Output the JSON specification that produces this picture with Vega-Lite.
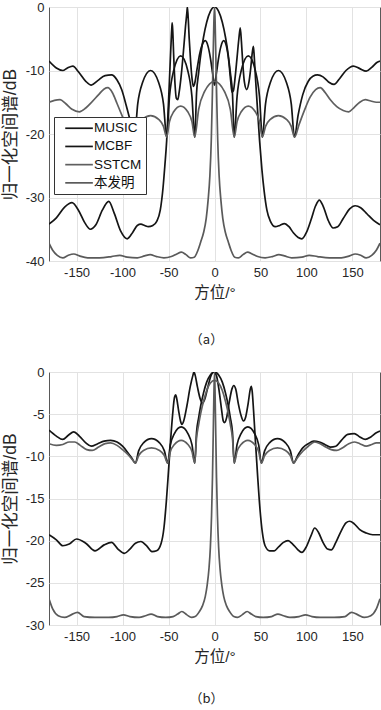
{
"$schema": "https://vega.github.io/schema/vega-lite/v6.json",
"padding": {"left": 0, "top": 0, "right": 0, "bottom": 0},
"spacing": 18,
"config": {
 "font": "Liberation Sans",
 "view": {"stroke": "#595959", "strokeWidth": 1},
 "axis": {"domain": false, "ticks": false, "grid": true, "gridColor": "#e2e2e2", "gridWidth": 1, "labelFont": "Liberation Sans", "labelFontSize": 13, "labelColor": "#262626", "labelPadding": 5, "titleFont": "Liberation Sans, Noto Sans CJK SC", "titleFontSize": 15.5, "titleFontWeight": "normal", "titleColor": "#262626"},
 "axisY": {"titleFontSize": 17.5},
 "legend": {"orient": "none", "title": null, "symbolType": "M0,0H9.2", "symbolSize": 36, "symbolStrokeWidth": 1.7, "labelFont": "Liberation Sans, Noto Sans CJK SC", "labelFontSize": 13.5, "labelColor": "#111111", "labelOffset": 22, "padding": 4.5, "rowPadding": 3.2, "fillColor": "white", "strokeColor": "#333333", "strokeWidth": 1},
 "title": {"orient": "bottom", "offset": 33, "fontSize": 13, "fontWeight": "normal", "font": "Noto Sans CJK SC", "color": "#222222", "dx": -8}
},
"datasets": {
"a": [
{"m":"MUSIC","x":-180,"y":-34.2},{"m":"MUSIC","x":-172,"y":-33.2},{"m":"MUSIC","x":-163,"y":-31.5},{"m":"MUSIC","x":-155,"y":-30.8},{"m":"MUSIC","x":-148,"y":-32},{"m":"MUSIC","x":-141,"y":-34},{"m":"MUSIC","x":-135,"y":-35},{"m":"MUSIC","x":-129,"y":-34.3},{"m":"MUSIC","x":-122,"y":-32},{"m":"MUSIC","x":-115,"y":-30.6},{"m":"MUSIC","x":-109,"y":-32.5},{"m":"MUSIC","x":-102,"y":-35.3},{"m":"MUSIC","x":-95,"y":-36.5},{"m":"MUSIC","x":-89,"y":-35.5},{"m":"MUSIC","x":-84,"y":-34.4},{"m":"MUSIC","x":-80,"y":-34.2},{"m":"MUSIC","x":-76,"y":-34.4},{"m":"MUSIC","x":-72,"y":-34.6},{"m":"MUSIC","x":-67,"y":-34.4},{"m":"MUSIC","x":-63,"y":-33.8},{"m":"MUSIC","x":-59,"y":-32},{"m":"MUSIC","x":-56,"y":-28.5},{"m":"MUSIC","x":-54,"y":-25},{"m":"MUSIC","x":-52,"y":-21},{"m":"MUSIC","x":-50.5,"y":-16.5},{"m":"MUSIC","x":-49,"y":-11.5},{"m":"MUSIC","x":-47.5,"y":-6.5},{"m":"MUSIC","x":-46.5,"y":-3.5},{"m":"MUSIC","x":-46,"y":-2.5},{"m":"MUSIC","x":-45.4,"y":-3.8},{"m":"MUSIC","x":-44.3,"y":-8},{"m":"MUSIC","x":-43,"y":-12},{"m":"MUSIC","x":-41.5,"y":-14.4},{"m":"MUSIC","x":-40,"y":-14.6},{"m":"MUSIC","x":-38.5,"y":-13.5},{"m":"MUSIC","x":-36,"y":-10.5},{"m":"MUSIC","x":-33.5,"y":-6.5},{"m":"MUSIC","x":-31.5,"y":-3},{"m":"MUSIC","x":-30,"y":-0.8},{"m":"MUSIC","x":-29.5,"y":0},{"m":"MUSIC","x":-28.7,"y":-1.5},{"m":"MUSIC","x":-27.5,"y":-5},{"m":"MUSIC","x":-26,"y":-8.5},{"m":"MUSIC","x":-24.5,"y":-11.2},{"m":"MUSIC","x":-23,"y":-12.5},{"m":"MUSIC","x":-21.5,"y":-12},{"m":"MUSIC","x":-19,"y":-9.8},{"m":"MUSIC","x":-16,"y":-7.3},{"m":"MUSIC","x":-13,"y":-5.8},{"m":"MUSIC","x":-10,"y":-5.3},{"m":"MUSIC","x":-7,"y":-6.2},{"m":"MUSIC","x":-4.5,"y":-8},{"m":"MUSIC","x":-2,"y":-10.5},{"m":"MUSIC","x":0,"y":-12.3},{"m":"MUSIC","x":2,"y":-10.5},{"m":"MUSIC","x":4.5,"y":-8},{"m":"MUSIC","x":7,"y":-6.2},{"m":"MUSIC","x":10,"y":-5.3},{"m":"MUSIC","x":13,"y":-6.2},{"m":"MUSIC","x":15.5,"y":-8.5},{"m":"MUSIC","x":17.5,"y":-11.5},{"m":"MUSIC","x":19,"y":-13.4},{"m":"MUSIC","x":20.5,"y":-13.2},{"m":"MUSIC","x":22.5,"y":-11},{"m":"MUSIC","x":24.5,"y":-8},{"m":"MUSIC","x":26.5,"y":-5},{"m":"MUSIC","x":28,"y":-3.3},{"m":"MUSIC","x":29.3,"y":-5.5},{"m":"MUSIC","x":30.8,"y":-9},{"m":"MUSIC","x":32.5,"y":-11.8},{"m":"MUSIC","x":35,"y":-13},{"m":"MUSIC","x":37.5,"y":-11.8},{"m":"MUSIC","x":39.5,"y":-9.5},{"m":"MUSIC","x":41,"y":-7.3},{"m":"MUSIC","x":42.3,"y":-6.2},{"m":"MUSIC","x":43.3,"y":-8},{"m":"MUSIC","x":44.5,"y":-11},{"m":"MUSIC","x":46.5,"y":-15.5},{"m":"MUSIC","x":49,"y":-21},{"m":"MUSIC","x":51.5,"y":-25.5},{"m":"MUSIC","x":54,"y":-29},{"m":"MUSIC","x":57,"y":-32},{"m":"MUSIC","x":61,"y":-33.8},{"m":"MUSIC","x":66,"y":-34.6},{"m":"MUSIC","x":71,"y":-34.4},{"m":"MUSIC","x":76,"y":-34.1},{"m":"MUSIC","x":81,"y":-34.6},{"m":"MUSIC","x":86,"y":-35.6},{"m":"MUSIC","x":91,"y":-36.3},{"m":"MUSIC","x":95,"y":-36.5},{"m":"MUSIC","x":100,"y":-35.5},{"m":"MUSIC","x":105,"y":-33.5},{"m":"MUSIC","x":110,"y":-31.3},{"m":"MUSIC","x":114,"y":-30.4},{"m":"MUSIC","x":118,"y":-31.3},{"m":"MUSIC","x":124,"y":-33.7},{"m":"MUSIC","x":129,"y":-34.8},{"m":"MUSIC","x":134,"y":-34.6},{"m":"MUSIC","x":140,"y":-33.3},{"m":"MUSIC","x":147,"y":-31.8},{"m":"MUSIC","x":153,"y":-31.3},{"m":"MUSIC","x":159,"y":-31.6},{"m":"MUSIC","x":166,"y":-32.6},{"m":"MUSIC","x":173,"y":-33.6},{"m":"MUSIC","x":180,"y":-34.3},
{"m":"MCBF","x":-180,"y":-8.5},{"m":"MCBF","x":-172,"y":-9.6},{"m":"MCBF","x":-165,"y":-10},{"m":"MCBF","x":-160,"y":-9.6},{"m":"MCBF","x":-154,"y":-9.3},{"m":"MCBF","x":-148,"y":-10.2},{"m":"MCBF","x":-140,"y":-11.7},{"m":"MCBF","x":-134,"y":-12.3},{"m":"MCBF","x":-127,"y":-11.6},{"m":"MCBF","x":-119,"y":-10.8},{"m":"MCBF","x":-112,"y":-10.7},{"m":"MCBF","x":-106,"y":-11.5},{"m":"MCBF","x":-101,"y":-13},{"m":"MCBF","x":-96,"y":-15.5},{"m":"MCBF","x":-91,"y":-18.3},{"m":"MCBF","x":-87,"y":-20.5},{"m":"MCBF","x":-83.5,"y":-15.25},{"m":"MCBF","x":-78.25,"y":-11.9},{"m":"MCBF","x":-69.5,"y":-10},{"m":"MCBF","x":-60.75,"y":-11.9},{"m":"MCBF","x":-55.5,"y":-15.25},{"m":"MCBF","x":-52,"y":-20.5},{"m":"MCBF","x":-48.95,"y":-14.1},{"m":"MCBF","x":-44.4,"y":-10},{"m":"MCBF","x":-36.75,"y":-7.7},{"m":"MCBF","x":-29.1,"y":-10},{"m":"MCBF","x":-24.55,"y":-14.1},{"m":"MCBF","x":-21.5,"y":-20.5},{"m":"MCBF","x":-19.5,"y":-13.5},{"m":"MCBF","x":-17.2,"y":-10.3},{"m":"MCBF","x":-15,"y":-7.6},{"m":"MCBF","x":-12,"y":-4.8},{"m":"MCBF","x":-8.5,"y":-2.4},{"m":"MCBF","x":-4.5,"y":-0.7},{"m":"MCBF","x":0,"y":0},{"m":"MCBF","x":4.5,"y":-0.7},{"m":"MCBF","x":8.5,"y":-2.4},{"m":"MCBF","x":12,"y":-4.8},{"m":"MCBF","x":15,"y":-7.6},{"m":"MCBF","x":17.2,"y":-10.3},{"m":"MCBF","x":19.5,"y":-13.5},{"m":"MCBF","x":21.5,"y":-20.5},{"m":"MCBF","x":24.55,"y":-14.1},{"m":"MCBF","x":29.1,"y":-10},{"m":"MCBF","x":36.75,"y":-7.7},{"m":"MCBF","x":44.4,"y":-10},{"m":"MCBF","x":48.95,"y":-14.1},{"m":"MCBF","x":52,"y":-20.5},{"m":"MCBF","x":55.5,"y":-15.25},{"m":"MCBF","x":60.75,"y":-11.9},{"m":"MCBF","x":69.5,"y":-10},{"m":"MCBF","x":78.25,"y":-11.9},{"m":"MCBF","x":83.5,"y":-15.25},{"m":"MCBF","x":87,"y":-20.5},{"m":"MCBF","x":91,"y":-17},{"m":"MCBF","x":96,"y":-13.8},{"m":"MCBF","x":102,"y":-11.7},{"m":"MCBF","x":107,"y":-10.9},{"m":"MCBF","x":112,"y":-10.7},{"m":"MCBF","x":118,"y":-11},{"m":"MCBF","x":124,"y":-11.8},{"m":"MCBF","x":130,"y":-12.2},{"m":"MCBF","x":136,"y":-11.3},{"m":"MCBF","x":143,"y":-10},{"m":"MCBF","x":151,"y":-9.3},{"m":"MCBF","x":158,"y":-9.7},{"m":"MCBF","x":165,"y":-10.1},{"m":"MCBF","x":171,"y":-9.5},{"m":"MCBF","x":177,"y":-8.7},{"m":"MCBF","x":180,"y":-8.5},
{"m":"SSTCM","x":-180,"y":-15},{"m":"SSTCM","x":-174,"y":-14.7},{"m":"SSTCM","x":-168,"y":-14.6},{"m":"SSTCM","x":-162,"y":-15.2},{"m":"SSTCM","x":-155,"y":-16.1},{"m":"SSTCM","x":-147,"y":-16.5},{"m":"SSTCM","x":-140,"y":-15.9},{"m":"SSTCM","x":-133,"y":-14.9},{"m":"SSTCM","x":-126,"y":-13.8},{"m":"SSTCM","x":-120,"y":-12.9},{"m":"SSTCM","x":-116,"y":-12.7},{"m":"SSTCM","x":-111,"y":-13.5},{"m":"SSTCM","x":-106,"y":-15.2},{"m":"SSTCM","x":-100,"y":-17.3},{"m":"SSTCM","x":-94,"y":-19.3},{"m":"SSTCM","x":-87,"y":-20.5},{"m":"SSTCM","x":-83.5,"y":-18.8},{"m":"SSTCM","x":-78.25,"y":-17.7},{"m":"SSTCM","x":-69.5,"y":-17.1},{"m":"SSTCM","x":-60.75,"y":-17.7},{"m":"SSTCM","x":-55.5,"y":-18.8},{"m":"SSTCM","x":-52,"y":-20.5},{"m":"SSTCM","x":-48.95,"y":-18.05},{"m":"SSTCM","x":-44.4,"y":-16.5},{"m":"SSTCM","x":-36.75,"y":-15.6},{"m":"SSTCM","x":-29.1,"y":-16.5},{"m":"SSTCM","x":-24.55,"y":-18.05},{"m":"SSTCM","x":-21.5,"y":-20.5},{"m":"SSTCM","x":-17.2,"y":-16.1},{"m":"SSTCM","x":-10.75,"y":-13.3},{"m":"SSTCM","x":0,"y":-11.7},{"m":"SSTCM","x":10.75,"y":-13.3},{"m":"SSTCM","x":17.2,"y":-16.1},{"m":"SSTCM","x":21.5,"y":-20.5},{"m":"SSTCM","x":24.55,"y":-18.05},{"m":"SSTCM","x":29.1,"y":-16.5},{"m":"SSTCM","x":36.75,"y":-15.6},{"m":"SSTCM","x":44.4,"y":-16.5},{"m":"SSTCM","x":48.95,"y":-18.05},{"m":"SSTCM","x":52,"y":-20.5},{"m":"SSTCM","x":55.5,"y":-18.8},{"m":"SSTCM","x":60.75,"y":-17.7},{"m":"SSTCM","x":69.5,"y":-17.1},{"m":"SSTCM","x":78.25,"y":-17.7},{"m":"SSTCM","x":83.5,"y":-18.8},{"m":"SSTCM","x":87,"y":-20.5},{"m":"SSTCM","x":92,"y":-18.5},{"m":"SSTCM","x":98,"y":-16.2},{"m":"SSTCM","x":104,"y":-14.2},{"m":"SSTCM","x":110,"y":-13},{"m":"SSTCM","x":115,"y":-12.7},{"m":"SSTCM","x":120,"y":-13.4},{"m":"SSTCM","x":126,"y":-14.6},{"m":"SSTCM","x":133,"y":-15.7},{"m":"SSTCM","x":140,"y":-16.3},{"m":"SSTCM","x":146,"y":-16.5},{"m":"SSTCM","x":152,"y":-15.8},{"m":"SSTCM","x":158,"y":-15},{"m":"SSTCM","x":164,"y":-14.6},{"m":"SSTCM","x":170,"y":-14.8},{"m":"SSTCM","x":176,"y":-15},{"m":"SSTCM","x":180,"y":-15},
{"m":"本发明","x":-180,"y":-37.2},{"m":"本发明","x":-176,"y":-38.3},{"m":"本发明","x":-171,"y":-39.1},{"m":"本发明","x":-165,"y":-39.5},{"m":"本发明","x":-159,"y":-39.1},{"m":"本发明","x":-153,"y":-38.9},{"m":"本发明","x":-147,"y":-39.2},{"m":"本发明","x":-138,"y":-39.5},{"m":"本发明","x":-125,"y":-39.5},{"m":"本发明","x":-112,"y":-39.3},{"m":"本发明","x":-103,"y":-39.1},{"m":"本发明","x":-95,"y":-39.4},{"m":"本发明","x":-84,"y":-39.5},{"m":"本发明","x":-76,"y":-39.2},{"m":"本发明","x":-70,"y":-39},{"m":"本发明","x":-63,"y":-39.3},{"m":"本发明","x":-55,"y":-39.5},{"m":"本发明","x":-47,"y":-39.3},{"m":"本发明","x":-41,"y":-38.9},{"m":"本发明","x":-36,"y":-38.6},{"m":"本发明","x":-31,"y":-39},{"m":"本发明","x":-26,"y":-39.5},{"m":"本发明","x":-22,"y":-39.4},{"m":"本发明","x":-18,"y":-38.3},{"m":"本发明","x":-15,"y":-37},{"m":"本发明","x":-12,"y":-35.6},{"m":"本发明","x":-9,"y":-33.3},{"m":"本发明","x":-7,"y":-30.5},{"m":"本发明","x":-5,"y":-26.5},{"m":"本发明","x":-3.5,"y":-21},{"m":"本发明","x":-2.5,"y":-15},{"m":"本发明","x":-1.5,"y":-8},{"m":"本发明","x":-0.7,"y":-2.5},{"m":"本发明","x":0,"y":0},{"m":"本发明","x":0.7,"y":-2.5},{"m":"本发明","x":1.5,"y":-8},{"m":"本发明","x":2.5,"y":-15},{"m":"本发明","x":3.5,"y":-21},{"m":"本发明","x":5,"y":-26.5},{"m":"本发明","x":7,"y":-30.5},{"m":"本发明","x":9,"y":-33.3},{"m":"本发明","x":12,"y":-35.6},{"m":"本发明","x":15,"y":-37},{"m":"本发明","x":18,"y":-38.3},{"m":"本发明","x":22,"y":-39.4},{"m":"本发明","x":26,"y":-39.5},{"m":"本发明","x":31,"y":-39},{"m":"本发明","x":36,"y":-38.6},{"m":"本发明","x":41,"y":-38.9},{"m":"本发明","x":47,"y":-39.3},{"m":"本发明","x":55,"y":-39.5},{"m":"本发明","x":63,"y":-39.3},{"m":"本发明","x":70,"y":-39},{"m":"本发明","x":76,"y":-39.2},{"m":"本发明","x":84,"y":-39.5},{"m":"本发明","x":95,"y":-39.4},{"m":"本发明","x":103,"y":-39.1},{"m":"本发明","x":112,"y":-39.3},{"m":"本发明","x":125,"y":-39.5},{"m":"本发明","x":138,"y":-39.5},{"m":"本发明","x":147,"y":-39.2},{"m":"本发明","x":153,"y":-38.9},{"m":"本发明","x":159,"y":-39.1},{"m":"本发明","x":165,"y":-39.5},{"m":"本发明","x":171,"y":-39.1},{"m":"本发明","x":176,"y":-38.3},{"m":"本发明","x":180,"y":-37.2}
],
"b": [
{"m":"MUSIC","x":-180,"y":-19.3},{"m":"MUSIC","x":-172,"y":-19.9},{"m":"MUSIC","x":-165,"y":-20.6},{"m":"MUSIC","x":-158,"y":-20.4},{"m":"MUSIC","x":-150,"y":-19.8},{"m":"MUSIC","x":-140,"y":-20.3},{"m":"MUSIC","x":-130,"y":-21.2},{"m":"MUSIC","x":-120,"y":-20.5},{"m":"MUSIC","x":-112,"y":-20.2},{"m":"MUSIC","x":-105,"y":-21},{"m":"MUSIC","x":-98,"y":-21.5},{"m":"MUSIC","x":-92,"y":-21},{"m":"MUSIC","x":-86,"y":-20.3},{"m":"MUSIC","x":-80,"y":-20.1},{"m":"MUSIC","x":-74,"y":-20.6},{"m":"MUSIC","x":-68,"y":-21.3},{"m":"MUSIC","x":-63,"y":-21.2},{"m":"MUSIC","x":-58,"y":-20.3},{"m":"MUSIC","x":-55,"y":-18.5},{"m":"MUSIC","x":-52.5,"y":-15.5},{"m":"MUSIC","x":-50.5,"y":-12.5},{"m":"MUSIC","x":-48,"y":-8.5},{"m":"MUSIC","x":-45.5,"y":-5},{"m":"MUSIC","x":-43.5,"y":-3},{"m":"MUSIC","x":-42.2,"y":-2.7},{"m":"MUSIC","x":-41,"y":-3.2},{"m":"MUSIC","x":-39,"y":-4.6},{"m":"MUSIC","x":-37,"y":-5.8},{"m":"MUSIC","x":-35.5,"y":-6.2},{"m":"MUSIC","x":-33.5,"y":-5.8},{"m":"MUSIC","x":-30,"y":-4},{"m":"MUSIC","x":-26.5,"y":-1.8},{"m":"MUSIC","x":-23.5,"y":-0.4},{"m":"MUSIC","x":-22.3,"y":0},{"m":"MUSIC","x":-21,"y":-0.4},{"m":"MUSIC","x":-18.5,"y":-1.8},{"m":"MUSIC","x":-15.5,"y":-3.2},{"m":"MUSIC","x":-13,"y":-3.7},{"m":"MUSIC","x":-10.5,"y":-3.2},{"m":"MUSIC","x":-7.5,"y":-1.9},{"m":"MUSIC","x":-4,"y":-0.5},{"m":"MUSIC","x":-1,"y":0},{"m":"MUSIC","x":2,"y":-0.4},{"m":"MUSIC","x":5,"y":-2.2},{"m":"MUSIC","x":7.5,"y":-4.3},{"m":"MUSIC","x":9.5,"y":-5.8},{"m":"MUSIC","x":11,"y":-6},{"m":"MUSIC","x":13,"y":-5.5},{"m":"MUSIC","x":16,"y":-3.6},{"m":"MUSIC","x":19,"y":-2},{"m":"MUSIC","x":21,"y":-1.6},{"m":"MUSIC","x":23,"y":-2},{"m":"MUSIC","x":26,"y":-3.8},{"m":"MUSIC","x":29,"y":-5.2},{"m":"MUSIC","x":31.5,"y":-5.8},{"m":"MUSIC","x":34,"y":-5.3},{"m":"MUSIC","x":36.5,"y":-3.8},{"m":"MUSIC","x":39,"y":-2},{"m":"MUSIC","x":40,"y":-1.7},{"m":"MUSIC","x":41,"y":-2.3},{"m":"MUSIC","x":42.5,"y":-4.6},{"m":"MUSIC","x":44.5,"y":-8.2},{"m":"MUSIC","x":47,"y":-12.5},{"m":"MUSIC","x":49.5,"y":-16.3},{"m":"MUSIC","x":52,"y":-19},{"m":"MUSIC","x":55,"y":-20.6},{"m":"MUSIC","x":60,"y":-21.2},{"m":"MUSIC","x":65,"y":-21.2},{"m":"MUSIC","x":70,"y":-20.7},{"m":"MUSIC","x":75,"y":-20.2},{"m":"MUSIC","x":80,"y":-20},{"m":"MUSIC","x":85,"y":-20.4},{"m":"MUSIC","x":90,"y":-21},{"m":"MUSIC","x":95,"y":-21.4},{"m":"MUSIC","x":100,"y":-20.7},{"m":"MUSIC","x":105,"y":-19.4},{"m":"MUSIC","x":109,"y":-18.5},{"m":"MUSIC","x":113,"y":-19},{"m":"MUSIC","x":118,"y":-20.2},{"m":"MUSIC","x":123,"y":-21},{"m":"MUSIC","x":127,"y":-21.1},{"m":"MUSIC","x":132,"y":-20.2},{"m":"MUSIC","x":138,"y":-18.8},{"m":"MUSIC","x":143,"y":-17.9},{"m":"MUSIC","x":147,"y":-17.7},{"m":"MUSIC","x":152,"y":-18},{"m":"MUSIC","x":158,"y":-18.7},{"m":"MUSIC","x":165,"y":-19.1},{"m":"MUSIC","x":172,"y":-19.3},{"m":"MUSIC","x":180,"y":-19.3},
{"m":"MCBF","x":-180,"y":-6.9},{"m":"MCBF","x":-172,"y":-7.6},{"m":"MCBF","x":-165,"y":-8},{"m":"MCBF","x":-159,"y":-7.5},{"m":"MCBF","x":-153,"y":-7.1},{"m":"MCBF","x":-147,"y":-7.6},{"m":"MCBF","x":-140,"y":-8.4},{"m":"MCBF","x":-134,"y":-8.8},{"m":"MCBF","x":-127,"y":-8.5},{"m":"MCBF","x":-120,"y":-8.2},{"m":"MCBF","x":-113,"y":-8.1},{"m":"MCBF","x":-106,"y":-8.3},{"m":"MCBF","x":-100,"y":-8.8},{"m":"MCBF","x":-94,"y":-9.6},{"m":"MCBF","x":-90,"y":-10.2},{"m":"MCBF","x":-86,"y":-10.8},{"m":"MCBF","x":-82.5,"y":-9.35},{"m":"MCBF","x":-77.25,"y":-8.4},{"m":"MCBF","x":-68.5,"y":-7.9},{"m":"MCBF","x":-59.75,"y":-8.4},{"m":"MCBF","x":-54.5,"y":-9.35},{"m":"MCBF","x":-51,"y":-10.8},{"m":"MCBF","x":-48.05,"y":-8.65},{"m":"MCBF","x":-43.6,"y":-7.3},{"m":"MCBF","x":-36.25,"y":-6.5},{"m":"MCBF","x":-28.9,"y":-7.3},{"m":"MCBF","x":-24.45,"y":-8.65},{"m":"MCBF","x":-21.5,"y":-10.8},{"m":"MCBF","x":-19.5,"y":-7.1},{"m":"MCBF","x":-17.2,"y":-5.4},{"m":"MCBF","x":-15,"y":-4},{"m":"MCBF","x":-12,"y":-2.5},{"m":"MCBF","x":-8.5,"y":-1.2},{"m":"MCBF","x":-4.5,"y":-0.35},{"m":"MCBF","x":0,"y":0},{"m":"MCBF","x":4.5,"y":-0.35},{"m":"MCBF","x":8.5,"y":-1.2},{"m":"MCBF","x":12,"y":-2.5},{"m":"MCBF","x":15,"y":-4},{"m":"MCBF","x":17.2,"y":-5.4},{"m":"MCBF","x":19.5,"y":-7.1},{"m":"MCBF","x":21.5,"y":-10.8},{"m":"MCBF","x":24.45,"y":-8.65},{"m":"MCBF","x":28.9,"y":-7.3},{"m":"MCBF","x":36.25,"y":-6.5},{"m":"MCBF","x":43.6,"y":-7.3},{"m":"MCBF","x":48.05,"y":-8.65},{"m":"MCBF","x":51,"y":-10.8},{"m":"MCBF","x":54.5,"y":-9.35},{"m":"MCBF","x":59.75,"y":-8.4},{"m":"MCBF","x":68.5,"y":-7.9},{"m":"MCBF","x":77.25,"y":-8.4},{"m":"MCBF","x":82.5,"y":-9.35},{"m":"MCBF","x":86,"y":-10.8},{"m":"MCBF","x":90,"y":-10},{"m":"MCBF","x":96,"y":-9},{"m":"MCBF","x":102,"y":-8.5},{"m":"MCBF","x":108,"y":-8.2},{"m":"MCBF","x":114,"y":-8.3},{"m":"MCBF","x":120,"y":-8.6},{"m":"MCBF","x":126,"y":-8.9},{"m":"MCBF","x":132,"y":-8.8},{"m":"MCBF","x":138,"y":-8.1},{"m":"MCBF","x":145,"y":-7.4},{"m":"MCBF","x":152,"y":-7.3},{"m":"MCBF","x":158,"y":-7.7},{"m":"MCBF","x":164,"y":-8},{"m":"MCBF","x":170,"y":-7.7},{"m":"MCBF","x":176,"y":-7.2},{"m":"MCBF","x":180,"y":-7},
{"m":"SSTCM","x":-180,"y":-8.5},{"m":"SSTCM","x":-172,"y":-8.7},{"m":"SSTCM","x":-165,"y":-8.6},{"m":"SSTCM","x":-158,"y":-8.3},{"m":"SSTCM","x":-152,"y":-8.3},{"m":"SSTCM","x":-146,"y":-8.7},{"m":"SSTCM","x":-139,"y":-9.2},{"m":"SSTCM","x":-133,"y":-9.3},{"m":"SSTCM","x":-126,"y":-8.9},{"m":"SSTCM","x":-119,"y":-8.5},{"m":"SSTCM","x":-113,"y":-8.4},{"m":"SSTCM","x":-106,"y":-8.7},{"m":"SSTCM","x":-100,"y":-9.2},{"m":"SSTCM","x":-94,"y":-9.8},{"m":"SSTCM","x":-90,"y":-10.3},{"m":"SSTCM","x":-86,"y":-10.8},{"m":"SSTCM","x":-82.5,"y":-9.9},{"m":"SSTCM","x":-77.25,"y":-9.3},{"m":"SSTCM","x":-68.5,"y":-9},{"m":"SSTCM","x":-59.75,"y":-9.3},{"m":"SSTCM","x":-54.5,"y":-9.9},{"m":"SSTCM","x":-51,"y":-10.8},{"m":"SSTCM","x":-48.05,"y":-9.45},{"m":"SSTCM","x":-43.6,"y":-8.6},{"m":"SSTCM","x":-36.25,"y":-8.1},{"m":"SSTCM","x":-28.9,"y":-8.6},{"m":"SSTCM","x":-24.45,"y":-9.45},{"m":"SSTCM","x":-21.5,"y":-10.8},{"m":"SSTCM","x":-19.5,"y":-7.8},{"m":"SSTCM","x":-17.2,"y":-6.2},{"m":"SSTCM","x":-15,"y":-4.9},{"m":"SSTCM","x":-12,"y":-3.5},{"m":"SSTCM","x":-8.5,"y":-2.2},{"m":"SSTCM","x":-4.5,"y":-1.3},{"m":"SSTCM","x":0,"y":-1},{"m":"SSTCM","x":4.5,"y":-1.3},{"m":"SSTCM","x":8.5,"y":-2.2},{"m":"SSTCM","x":12,"y":-3.5},{"m":"SSTCM","x":15,"y":-4.9},{"m":"SSTCM","x":17.2,"y":-6.2},{"m":"SSTCM","x":19.5,"y":-7.8},{"m":"SSTCM","x":21.5,"y":-10.8},{"m":"SSTCM","x":24.45,"y":-9.45},{"m":"SSTCM","x":28.9,"y":-8.6},{"m":"SSTCM","x":36.25,"y":-8.1},{"m":"SSTCM","x":43.6,"y":-8.6},{"m":"SSTCM","x":48.05,"y":-9.45},{"m":"SSTCM","x":51,"y":-10.8},{"m":"SSTCM","x":54.5,"y":-9.9},{"m":"SSTCM","x":59.75,"y":-9.3},{"m":"SSTCM","x":68.5,"y":-9},{"m":"SSTCM","x":77.25,"y":-9.3},{"m":"SSTCM","x":82.5,"y":-9.9},{"m":"SSTCM","x":86,"y":-10.8},{"m":"SSTCM","x":90,"y":-10.2},{"m":"SSTCM","x":96,"y":-9.4},{"m":"SSTCM","x":102,"y":-8.8},{"m":"SSTCM","x":109,"y":-8.3},{"m":"SSTCM","x":115,"y":-8.5},{"m":"SSTCM","x":121,"y":-8.9},{"m":"SSTCM","x":127,"y":-9.2},{"m":"SSTCM","x":133,"y":-9.3},{"m":"SSTCM","x":139,"y":-9},{"m":"SSTCM","x":146,"y":-8.5},{"m":"SSTCM","x":152,"y":-8.3},{"m":"SSTCM","x":158,"y":-8.5},{"m":"SSTCM","x":165,"y":-8.8},{"m":"SSTCM","x":171,"y":-8.6},{"m":"SSTCM","x":176,"y":-8.4},{"m":"SSTCM","x":180,"y":-8.4},
{"m":"本发明","x":-180,"y":-26.9},{"m":"本发明","x":-176,"y":-28.1},{"m":"本发明","x":-170,"y":-28.9},{"m":"本发明","x":-163,"y":-29.1},{"m":"本发明","x":-156,"y":-28.8},{"m":"本发明","x":-149,"y":-28.5},{"m":"本发明","x":-142,"y":-29},{"m":"本发明","x":-130,"y":-29.1},{"m":"本发明","x":-115,"y":-29.1},{"m":"本发明","x":-106,"y":-29},{"m":"本发明","x":-99,"y":-28.8},{"m":"本发明","x":-92,"y":-29},{"m":"本发明","x":-82,"y":-29.1},{"m":"本发明","x":-75,"y":-28.9},{"m":"本发明","x":-69,"y":-28.7},{"m":"本发明","x":-62,"y":-29},{"m":"本发明","x":-53,"y":-29.1},{"m":"本发明","x":-45,"y":-29},{"m":"本发明","x":-40,"y":-28.7},{"m":"本发明","x":-35.5,"y":-28.4},{"m":"本发明","x":-30,"y":-28.8},{"m":"本发明","x":-25,"y":-29.1},{"m":"本发明","x":-21,"y":-29},{"m":"本发明","x":-17,"y":-28.5},{"m":"本发明","x":-13,"y":-27.7},{"m":"本发明","x":-10,"y":-26.6},{"m":"本发明","x":-8,"y":-25.3},{"m":"本发明","x":-6,"y":-23.3},{"m":"本发明","x":-4.5,"y":-20.8},{"m":"本发明","x":-3.2,"y":-17},{"m":"本发明","x":-2.2,"y":-12.5},{"m":"本发明","x":-1.4,"y":-7.5},{"m":"本发明","x":-0.7,"y":-3},{"m":"本发明","x":0,"y":0},{"m":"本发明","x":0.7,"y":-3},{"m":"本发明","x":1.4,"y":-7.5},{"m":"本发明","x":2.2,"y":-12.5},{"m":"本发明","x":3.2,"y":-17},{"m":"本发明","x":4.5,"y":-20.8},{"m":"本发明","x":6,"y":-23.3},{"m":"本发明","x":8,"y":-25.3},{"m":"本发明","x":10,"y":-26.6},{"m":"本发明","x":13,"y":-27.7},{"m":"本发明","x":17,"y":-28.5},{"m":"本发明","x":21,"y":-29},{"m":"本发明","x":25,"y":-29.1},{"m":"本发明","x":30,"y":-28.8},{"m":"本发明","x":35.5,"y":-28.4},{"m":"本发明","x":40,"y":-28.7},{"m":"本发明","x":45,"y":-29},{"m":"本发明","x":53,"y":-29.1},{"m":"本发明","x":62,"y":-29},{"m":"本发明","x":69,"y":-28.7},{"m":"本发明","x":75,"y":-28.9},{"m":"本发明","x":82,"y":-29.1},{"m":"本发明","x":92,"y":-29},{"m":"本发明","x":99,"y":-28.8},{"m":"本发明","x":106,"y":-29},{"m":"本发明","x":115,"y":-29.1},{"m":"本发明","x":130,"y":-29.1},{"m":"本发明","x":142,"y":-29},{"m":"本发明","x":149,"y":-28.5},{"m":"本发明","x":156,"y":-28.8},{"m":"本发明","x":163,"y":-29.1},{"m":"本发明","x":170,"y":-28.9},{"m":"本发明","x":176,"y":-28.1},{"m":"本发明","x":180,"y":-26.9}
]
},
"vconcat": [
{
 "data": {"name": "a"},
 "width": 331, "height": 254,
 "title": {"text": "（a）"},
 "mark": {"type": "line", "interpolate": "monotone", "strokeWidth": 1.7, "clip": true},
 "encoding": {
  "x": {"field": "x", "type": "quantitative", "scale": {"domain": [-180, 180], "nice": false, "zero": false}, "axis": {"values": [-150, -100, -50, 0, 50, 100, 150], "title": "方位/°", "titlePadding": 6, "labelExpr": "replace(datum.label, '−', '-')"}},
  "y": {"field": "y", "type": "quantitative", "scale": {"domain": [-40, 0], "nice": false, "zero": false}, "axis": {"values": [-40, -30, -20, -10, 0], "title": "归一化空间谱/dB", "titlePadding": 6, "labelExpr": "replace(datum.label, '−', '-')"}},
  "color": {"field": "m", "type": "nominal", "scale": {"domain": ["MUSIC", "MCBF", "SSTCM", "本发明"], "range": ["#151515", "#151515", "#5f5f5f", "#5a5a5a"]}, "legend": {"legendX": 5, "legendY": 110}}
 }
},
{
 "data": {"name": "b"},
 "width": 331, "height": 253,
 "title": {"text": "（b）", "offset": 28},
 "mark": {"type": "line", "interpolate": "monotone", "strokeWidth": 1.7, "clip": true},
 "encoding": {
  "x": {"field": "x", "type": "quantitative", "scale": {"domain": [-180, 180], "nice": false, "zero": false}, "axis": {"values": [-150, -100, -50, 0, 50, 100, 150], "title": "方位/°", "titlePadding": 6, "labelExpr": "replace(datum.label, '−', '-')"}},
  "y": {"field": "y", "type": "quantitative", "scale": {"domain": [-30, 0], "nice": false, "zero": false}, "axis": {"values": [-30, -25, -20, -15, -10, -5, 0], "title": "归一化空间谱/dB", "titlePadding": 6, "labelExpr": "replace(datum.label, '−', '-')"}},
  "color": {"field": "m", "type": "nominal", "scale": {"domain": ["MUSIC", "MCBF", "SSTCM", "本发明"], "range": ["#151515", "#151515", "#5f5f5f", "#5a5a5a"]}, "legend": {"legendX": 6, "legendY": 109}}
 }
}
]
}
